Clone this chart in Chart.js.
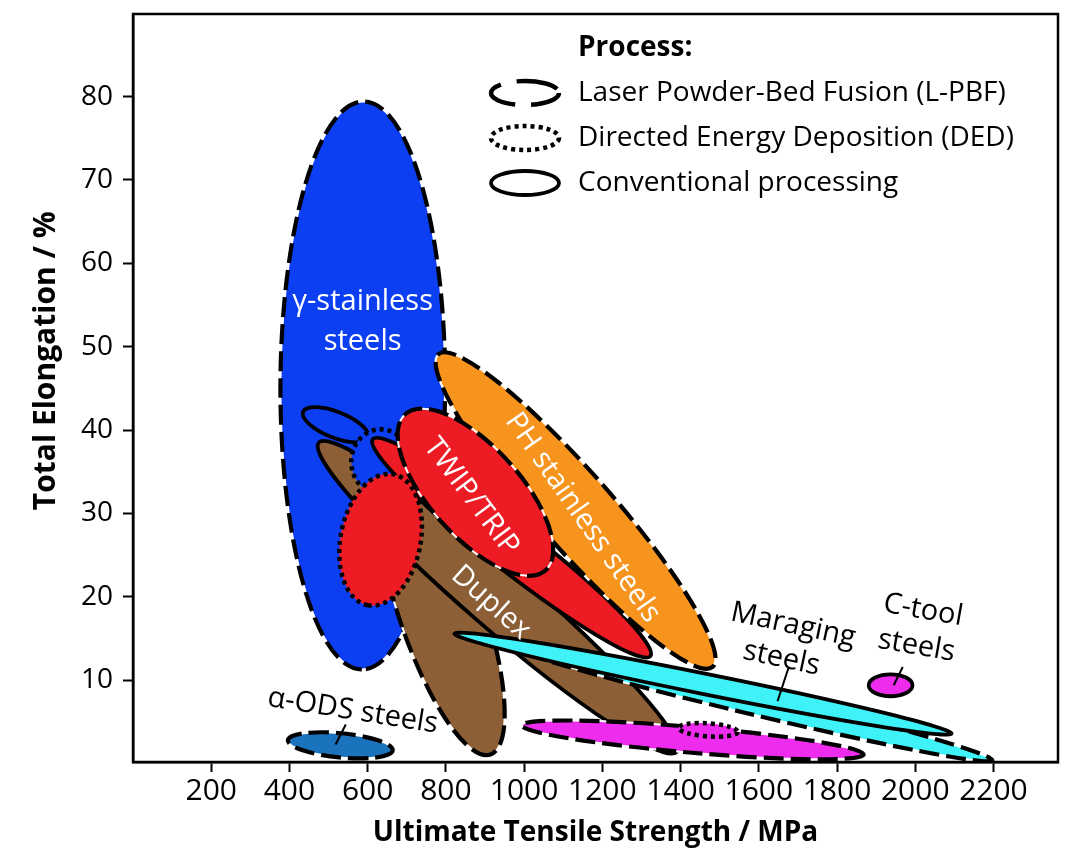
<!DOCTYPE html>
<html><head><meta charset="utf-8">
<script src="https://cdn.jsdelivr.net/npm/chart.js@4/dist/chart.umd.min.js"></script>
<style>html,body{margin:0;padding:0;background:#fff}#wrap{width:1067px;height:860px;position:relative}</style>
</head><body><div id="wrap"><canvas id="c"></canvas></div>
<script>
// Property envelopes (back to front). Each is an ellipse given by the two ends of its
// major axis in data units (UTS / MPa, total elongation / %) and a minor/major ratio.
const families = ['γ-stainless (L-PBF)','Duplex (L-PBF)','Duplex (conv.)','γ-stainless (conv.)','γ-stainless (DED)',
  'TWIP/TRIP (conv.)','PH stainless (L-PBF)','TWIP/TRIP (DED)','TWIP/TRIP (L-PBF)','Maraging (L-PBF)','Maraging (conv.)',
  'C-tool (L-PBF)','C-tool (DED)','C-tool (conv.)','α-ODS (L-PBF)'];
const uts1 = [590, 664, 475, 435, 633, 613, 781, 666, 696, 950, 822, 994, 1395, 1881, 396];
const el1  = [79.4, 35.3, 38.5, 42.2, 40.1, 38.9, 49.1, 34.7, 41.9, 14.4, 15.6, 4.6, 4.3, 9.4, 2.8];
const uts2 = [585, 914, 1390, 601, 633, 1323, 1482, 600, 1055, 2197, 2093, 1868, 1546, 1993, 664];
const el2  = [11.3, 1.1, 1.4, 39.1, 32.3, 12.9, 11.6, 19.0, 23.2, 0.4, 3.6, 1.1, 3.8, 9.4, 1.6];
const widthRatio = [0.29, 0.28, 0.13, 0.37, 0.9, 0.13, 0.18, 0.6, 0.43, 0.045, 0.04, 0.075, 0.22, 0.5, 0.23];
const processes = ['lpbf','lpbf','conv','conv','ded','conv','lpbf','ded','lpbf','lpbf','conv','lpbf','ded','conv','lpbf'];
const fills = ['#0c3ef2','#8c5f36','#8c5f36','#0c3ef2','#0c3ef2','#ed1c24','#f7941d','#ed1c24','#ed1c24',
  '#3ff2f7','#3ff2f7','#ee2cee','#ee2cee','#ee2cee','#1b72bd'];

const xTicks = [200,400,600,800,1000,1200,1400,1600,1800,2000,2200];
const yTicks = [10,20,30,40,50,60,70,80];

// Text labels anchored in data units
const labelText = ['γ-stainless','steels','TWIP/TRIP','PH stainless steels','Duplex','Maraging','steels','C-tool','steels','α-ODS steels'];
const labelX = [587, 587, 865, 1150, 915, 1688, 1658, 2020, 2003, 562];
const labelY = [55.4, 50.6, 32.0, 29.5, 19.3, 16.6, 12.6, 18.4, 14.1, 6.3];
const labelAngle = [0, 0, 53, 55, 42, 12, 12, 10, 10, 9];
const labelColor = ['#fff','#fff','#fff','#fff','#fff','#000','#000','#000','#000','#000'];
// leader lines (x1,y1,x2,y2)
const leaders = [[1676,11.5,1648,7.5],[1968,11.6,1945,9.4],[544,4.7,518,2.3]];

const legendItems = ['Laser Powder-Bed Fusion (L-PBF)','Directed Energy Deposition (DED)','Conventional processing'];
const legendProc = ['lpbf','ded','conv'];

const FONT = "'Open Sans', 'DejaVu Sans', sans-serif";

function strokeProc(ctx, p, legend){
  ctx.setLineDash([]);
  if (p === 'lpbf') {
    if (!legend) { ctx.lineWidth = 2; ctx.strokeStyle = '#fff'; ctx.stroke(); }
    ctx.setLineDash(legend ? [42,16] : [20,7]);
    ctx.lineDashOffset = legend ? 10 : 0;
    ctx.lineWidth = legend ? 4.5 : 4.2; ctx.strokeStyle = '#000'; ctx.stroke();
  } else if (p === 'ded') {
    ctx.setLineDash([4,4]); ctx.lineWidth = 4.5; ctx.strokeStyle = '#000'; ctx.stroke();
  } else {
    ctx.lineWidth = 3.8; ctx.strokeStyle = '#000'; ctx.stroke();
  }
  ctx.setLineDash([]); ctx.lineDashOffset = 0;
}

const envelopes = {
  id: 'envelopes',
  beforeDatasetsDraw(chart){
    const {ctx, chartArea: a, scales: {x, y}} = chart;
    ctx.save();
    ctx.beginPath(); ctx.rect(a.left, a.top, a.right - a.left, a.bottom - a.top); ctx.clip();
    for (let i = 0; i < families.length; i++) {
      const x1 = x.getPixelForValue(uts1[i]), y1 = y.getPixelForValue(el1[i]);
      const x2 = x.getPixelForValue(uts2[i]), y2 = y.getPixelForValue(el2[i]);
      const cx = (x1 + x2) / 2, cy = (y1 + y2) / 2;
      const A = Math.hypot(x2 - x1, y2 - y1) / 2, B = A * widthRatio[i];
      const ang = Math.atan2(y2 - y1, x2 - x1);
      ctx.beginPath(); ctx.ellipse(cx, cy, A, B, ang, 0, Math.PI * 2);
      ctx.fillStyle = fills[i]; ctx.fill();
      strokeProc(ctx, processes[i], false);
    }
    // labels
    ctx.textAlign = 'center'; ctx.textBaseline = 'middle';
    for (let i = 0; i < labelText.length; i++) {
      ctx.save();
      ctx.translate(x.getPixelForValue(labelX[i]), y.getPixelForValue(labelY[i]));
      ctx.rotate(labelAngle[i] * Math.PI / 180);
      ctx.font = '29px ' + FONT;
      ctx.fillStyle = labelColor[i];
      ctx.fillText(labelText[i], 0, 0);
      ctx.restore();
    }
    ctx.strokeStyle = '#000'; ctx.lineWidth = 2;
    for (const l of leaders) {
      ctx.beginPath();
      ctx.moveTo(x.getPixelForValue(l[0]), y.getPixelForValue(l[1]));
      ctx.lineTo(x.getPixelForValue(l[2]), y.getPixelForValue(l[3]));
      ctx.stroke();
    }
    ctx.restore();
  },
  afterDraw(chart){
    const {ctx, chartArea: a} = chart;
    ctx.save();
    ctx.strokeStyle = '#000'; ctx.lineWidth = 2.5;
    ctx.strokeRect(a.left, a.top, a.right - a.left, a.bottom - a.top);
    // legend
    const lx = a.left + 445, ly = a.top + 34;
    ctx.fillStyle = '#000'; ctx.textAlign = 'left'; ctx.textBaseline = 'middle';
    ctx.font = 'bold 28px ' + FONT;
    ctx.fillText('Process:', lx, ly);
    ctx.font = '28px ' + FONT;
    for (let i = 0; i < legendItems.length; i++) {
      const yy = ly + 45 * (i + 1);
      ctx.beginPath(); ctx.ellipse(lx - 53, yy, 34, 12, 0, 0, Math.PI * 2);
      strokeProc(ctx, legendProc[i], true);
      ctx.fillStyle = '#000';
      ctx.fillText(legendItems[i], lx, yy);
    }
    ctx.restore();
  }
};

const axisCommon = {
  type: 'linear',
  grid: { drawOnChartArea: false, drawTicks: true, tickLength: 10, tickWidth: 2, tickColor: '#000' },
  border: { display: true, color: '#000', width: 2.5 }
};

new Chart(document.getElementById('c'), {
  type: 'scatter',
  data: { datasets: families.map((f, i) => ({
    label: f, data: [{x: uts1[i], y: el1[i]}, {x: uts2[i], y: el2[i]}],
    pointRadius: 0, showLine: false })) },
  options: {
    responsive: true, maintainAspectRatio: false, animation: false,
    layout: { padding: { top: 14, right: 9, left: 0, bottom: 0 } },
    plugins: { legend: { display: false }, tooltip: { enabled: false } },
    scales: {
      x: Object.assign({}, axisCommon, {
        min: 0, max: 2365,
        afterBuildTicks: s => { s.ticks = xTicks.map(v => ({value: v})); },
        afterFit: s => { s.height = 98; s.paddingLeft = 0; s.paddingRight = 0; },
        ticks: { color: '#000', font: { family: FONT, size: 30 }, padding: 1, maxRotation: 0, autoSkip: false,
                 callback: v => String(v) },
        title: { display: true, text: 'Ultimate Tensile Strength / MPa', color: '#000',
                 font: { family: FONT, size: 28, weight: 'bold' }, padding: { top: 0, bottom: 10 } }
      }),
      y: Object.assign({}, axisCommon, {
        min: 0.2, max: 89.9,
        afterBuildTicks: s => { s.ticks = yTicks.map(v => ({value: v})); },
        afterFit: s => { s.width = 133; s.paddingTop = 0; s.paddingBottom = 0; },
        ticks: { color: '#000', font: { family: FONT, size: 28 }, padding: 10, autoSkip: false,
                 callback: v => String(v) },
        title: { display: true, text: '\u00a0\u00a0\u00a0\u00a0\u00a0\u00a0\u00a0Total Elongation / %', color: '#000',
                 font: { family: FONT, size: 30, weight: 'bold' }, padding: { top: 28, bottom: 0 } }
      })
    }
  },
  plugins: [envelopes]
});
</script></body></html>
